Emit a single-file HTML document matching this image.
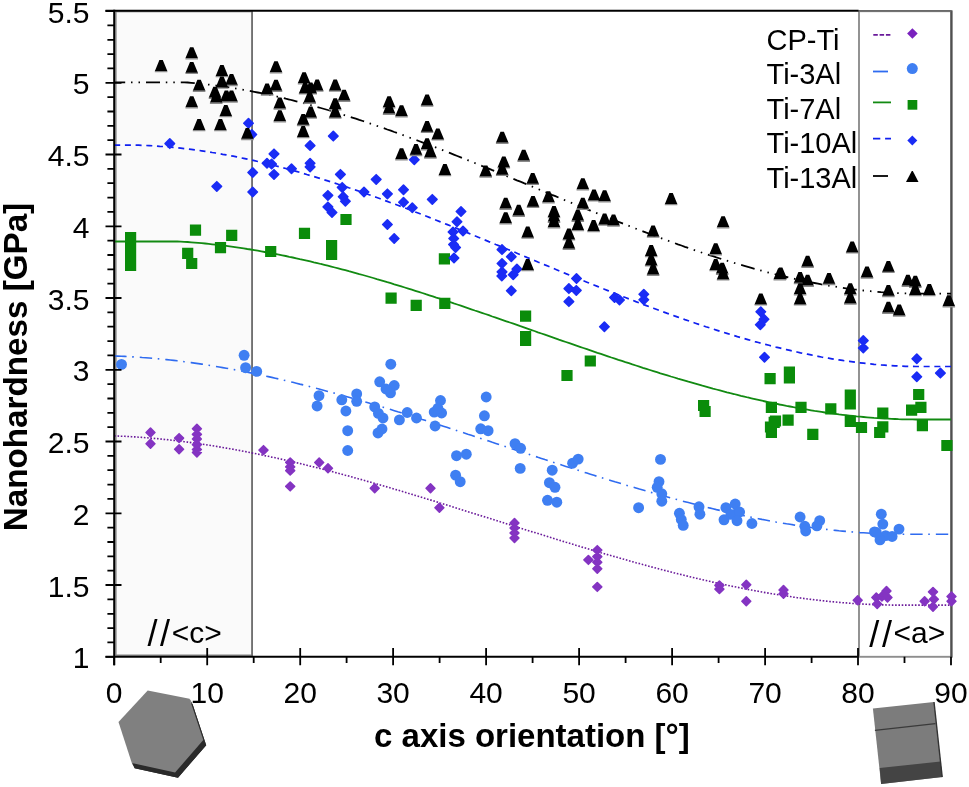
<!DOCTYPE html>
<html><head><meta charset="utf-8"><title>Nanohardness vs c axis orientation</title>
<style>
html,body{margin:0;padding:0;background:#fff;}
body{width:969px;height:787px;overflow:hidden;}
svg{display:block;}
text{font-family:"Liberation Sans",sans-serif;fill:#000;}
</style></head><body>
<svg width="969" height="787" viewBox="0 0 969 787">

<rect x="115.2" y="11.6" width="136.6" height="644.2" fill="#fafafa"/>
<rect x="115.9" y="11.6" width="136.2" height="643.6" fill="none" stroke="#8c8c8c" stroke-width="1.5"/>
<line x1="252.1" y1="11" x2="252.1" y2="656" stroke="#6f6f6f" stroke-width="1.7"/>
<rect x="859.0" y="11.2" width="92.4" height="645.6" fill="#fff" stroke="#8e8e8e" stroke-width="1.9"/>
<line x1="951.4" y1="10.5" x2="951.4" y2="657.4" stroke="#505050" stroke-width="2.2"/>
<line x1="858.6" y1="10.9" x2="951.4" y2="10.9" stroke="#6a6a6a" stroke-width="1.6"/>
<polyline points="114.2,435.9 117.7,436.0 121.2,436.2 124.7,436.3 128.2,436.5 131.7,436.7 135.2,436.9 138.7,437.2 142.2,437.4 145.7,437.7 149.2,438.0 152.7,438.3 156.2,438.6 159.7,438.9 163.2,439.3 166.7,439.6 170.2,440.0 173.7,440.4 177.2,440.8 180.7,441.2 184.2,441.7 187.7,442.1 191.2,442.6 194.7,443.1 198.2,443.6 201.7,444.1 205.2,444.6 208.7,445.2 212.2,445.7 215.7,446.3 219.2,446.9 222.7,447.5 226.2,448.1 229.7,448.7 233.2,449.3 236.7,450.0 240.2,450.6 243.7,451.3 247.3,452.0 250.8,452.7 254.3,453.4 257.8,454.1 261.3,454.8 264.8,455.6 268.3,456.3 271.8,457.1 275.3,457.8 278.8,458.6 282.3,459.4 285.8,460.2 289.3,461.0 292.8,461.8 296.3,462.7 299.8,463.5 303.3,464.3 306.8,465.2 310.3,466.1 313.8,466.9 317.3,467.8 320.8,468.7 324.3,469.6 327.8,470.5 331.3,471.4 334.8,472.4 338.3,473.3 341.8,474.2 345.3,475.2 348.8,476.1 352.3,477.1 355.8,478.1 359.3,479.0 362.8,480.0 366.3,481.0 369.8,482.0 373.3,483.0 376.8,484.0 380.3,485.0 383.8,486.0 387.3,487.0 390.8,488.1 394.3,489.1 397.8,490.1 401.3,491.2 404.8,492.2 408.3,493.3 411.8,494.3 415.3,495.4 418.8,496.4 422.3,497.5 425.8,498.6 429.3,499.6 432.8,500.7 436.3,501.8 439.8,502.9 443.3,503.9 446.8,505.0 450.3,506.1 453.8,507.2 457.3,508.3 460.8,509.4 464.3,510.5 467.8,511.6 471.3,512.7 474.8,513.8 478.3,514.9 481.8,516.0 485.3,517.1 488.8,518.2 492.3,519.3 495.8,520.4 499.3,521.5 502.8,522.6 506.3,523.7 509.9,524.8 513.4,525.9 516.9,527.0 520.4,528.1 523.9,529.2 527.4,530.3 530.9,531.4 534.4,532.4 537.9,533.5 541.4,534.6 544.9,535.7 548.4,536.8 551.9,537.9 555.4,539.0 558.9,540.0 562.4,541.1 565.9,542.2 569.4,543.2 572.9,544.3 576.4,545.4 579.9,546.4 583.4,547.5 586.9,548.5 590.4,549.6 593.9,550.6 597.4,551.6 600.9,552.7 604.4,553.7 607.9,554.7 611.4,555.7 614.9,556.7 618.4,557.7 621.9,558.7 625.4,559.7 628.9,560.7 632.4,561.7 635.9,562.7 639.4,563.6 642.9,564.6 646.4,565.5 649.9,566.5 653.4,567.4 656.9,568.3 660.4,569.3 663.9,570.2 667.4,571.1 670.9,572.0 674.4,572.9 677.9,573.8 681.4,574.6 684.9,575.5 688.4,576.4 691.9,577.2 695.4,578.0 698.9,578.9 702.4,579.7 705.9,580.5 709.4,581.3 712.9,582.1 716.4,582.9 719.9,583.6 723.4,584.4 726.9,585.1 730.4,585.9 733.9,586.6 737.4,587.3 740.9,588.0 744.4,588.7 747.9,589.4 751.4,590.0 754.9,590.7 758.4,591.3 761.9,592.0 765.4,592.6 769.0,593.2 772.5,593.8 776.0,594.4 779.5,594.9 783.0,595.5 786.5,596.0 790.0,596.5 793.5,597.1 797.0,597.6 800.5,598.0 804.0,598.5 807.5,599.0 811.0,599.4 814.5,599.8 818.0,600.2 821.5,600.6 825.0,601.0 828.5,601.4 832.0,601.7 835.5,602.0 839.0,602.4 842.5,602.7 846.0,602.9 849.5,603.2 853.0,603.5 856.5,603.7 860.0,603.9 863.5,604.1 867.0,604.3 870.5,604.4 874.0,604.6 877.5,604.7 881.0,604.8 884.5,604.9 888.0,605.0 891.5,605.1 895.0,605.1 898.5,605.1 902.0,605.1 905.5,605.1 909.0,605.1 912.5,605.1 916.0,605.1 919.5,605.1 923.0,605.1 926.5,605.1 930.0,605.1 933.5,605.1 937.0,605.1 940.5,605.1 944.0,605.1 947.5,605.1 951.0,605.1" fill="none" stroke="#6a1a9a" stroke-width="1.6" stroke-dasharray="1.6 1.7"/>
<polyline points="114.2,356.0 117.7,356.1 121.2,356.3 124.7,356.4 128.2,356.6 131.7,356.8 135.2,357.0 138.7,357.2 142.2,357.5 145.7,357.7 149.2,358.0 152.7,358.3 156.2,358.6 159.7,358.9 163.2,359.3 166.7,359.6 170.2,360.0 173.7,360.4 177.2,360.8 180.7,361.3 184.2,361.7 187.7,362.2 191.2,362.6 194.7,363.1 198.2,363.6 201.7,364.1 205.2,364.7 208.7,365.2 212.2,365.8 215.7,366.4 219.2,367.0 222.7,367.6 226.2,368.2 229.7,368.8 233.2,369.5 236.7,370.1 240.2,370.8 243.7,371.5 247.3,372.2 250.8,372.9 254.3,373.6 257.8,374.4 261.3,375.1 264.8,375.9 268.3,376.6 271.8,377.4 275.3,378.2 278.8,379.0 282.3,379.8 285.8,380.7 289.3,381.5 292.8,382.3 296.3,383.2 299.8,384.1 303.3,384.9 306.8,385.8 310.3,386.7 313.8,387.6 317.3,388.6 320.8,389.5 324.3,390.4 327.8,391.4 331.3,392.3 334.8,393.3 338.3,394.2 341.8,395.2 345.3,396.2 348.8,397.2 352.3,398.2 355.8,399.2 359.3,400.2 362.8,401.2 366.3,402.2 369.8,403.3 373.3,404.3 376.8,405.4 380.3,406.4 383.8,407.5 387.3,408.5 390.8,409.6 394.3,410.7 397.8,411.8 401.3,412.8 404.8,413.9 408.3,415.0 411.8,416.1 415.3,417.2 418.8,418.3 422.3,419.5 425.8,420.6 429.3,421.7 432.8,422.8 436.3,423.9 439.8,425.1 443.3,426.2 446.8,427.3 450.3,428.5 453.8,429.6 457.3,430.8 460.8,431.9 464.3,433.0 467.8,434.2 471.3,435.3 474.8,436.5 478.3,437.7 481.8,438.8 485.3,440.0 488.8,441.1 492.3,442.3 495.8,443.4 499.3,444.6 502.8,445.7 506.3,446.9 509.9,448.1 513.4,449.2 516.9,450.4 520.4,451.5 523.9,452.7 527.4,453.8 530.9,455.0 534.4,456.1 537.9,457.3 541.4,458.4 544.9,459.6 548.4,460.7 551.9,461.9 555.4,463.0 558.9,464.1 562.4,465.3 565.9,466.4 569.4,467.5 572.9,468.6 576.4,469.7 579.9,470.9 583.4,472.0 586.9,473.1 590.4,474.2 593.9,475.3 597.4,476.4 600.9,477.5 604.4,478.5 607.9,479.6 611.4,480.7 614.9,481.8 618.4,482.8 621.9,483.9 625.4,484.9 628.9,486.0 632.4,487.0 635.9,488.0 639.4,489.1 642.9,490.1 646.4,491.1 649.9,492.1 653.4,493.1 656.9,494.1 660.4,495.1 663.9,496.0 667.4,497.0 670.9,498.0 674.4,498.9 677.9,499.8 681.4,500.8 684.9,501.7 688.4,502.6 691.9,503.5 695.4,504.4 698.9,505.3 702.4,506.2 705.9,507.0 709.4,507.9 712.9,508.7 716.4,509.6 719.9,510.4 723.4,511.2 726.9,512.0 730.4,512.8 733.9,513.6 737.4,514.3 740.9,515.1 744.4,515.8 747.9,516.6 751.4,517.3 754.9,518.0 758.4,518.7 761.9,519.4 765.4,520.0 769.0,520.7 772.5,521.3 776.0,522.0 779.5,522.6 783.0,523.2 786.5,523.8 790.0,524.3 793.5,524.9 797.0,525.4 800.5,526.0 804.0,526.5 807.5,527.0 811.0,527.5 814.5,527.9 818.0,528.4 821.5,528.8 825.0,529.2 828.5,529.7 832.0,530.0 835.5,530.4 839.0,530.8 842.5,531.1 846.0,531.4 849.5,531.7 853.0,532.0 856.5,532.3 860.0,532.6 863.5,532.8 867.0,533.0 870.5,533.2 874.0,533.4 877.5,533.6 881.0,533.7 884.5,533.8 888.0,533.9 891.5,534.0 895.0,534.1 898.5,534.1 902.0,534.2 905.5,534.2 909.0,534.2 912.5,534.2 916.0,534.2 919.5,534.2 923.0,534.2 926.5,534.2 930.0,534.2 933.5,534.2 937.0,534.2 940.5,534.2 944.0,534.2 947.5,534.2 951.0,534.2" fill="none" stroke="#2f6bf0" stroke-width="1.6" stroke-dasharray="12.4 5.6 1.6 6"/>
<polyline points="114.2,241.5 117.7,241.5 121.2,241.5 124.7,241.5 128.2,241.5 131.7,241.5 135.2,241.5 138.7,241.5 142.2,241.5 145.7,241.5 149.2,241.5 152.7,241.5 156.2,241.5 159.7,241.5 163.2,241.5 166.7,241.5 170.2,241.5 173.7,241.5 177.2,241.5 180.7,241.6 184.2,241.8 187.7,242.0 191.2,242.3 194.7,242.6 198.2,242.9 201.7,243.2 205.2,243.5 208.7,243.9 212.2,244.3 215.7,244.7 219.2,245.1 222.7,245.5 226.2,245.9 229.7,246.4 233.2,246.9 236.7,247.4 240.2,247.9 243.7,248.4 247.3,249.0 250.8,249.5 254.3,250.1 257.8,250.7 261.3,251.3 264.8,252.0 268.3,252.6 271.8,253.3 275.3,253.9 278.8,254.6 282.3,255.3 285.8,256.0 289.3,256.8 292.8,257.5 296.3,258.3 299.8,259.1 303.3,259.8 306.8,260.6 310.3,261.4 313.8,262.3 317.3,263.1 320.8,264.0 324.3,264.8 327.8,265.7 331.3,266.6 334.8,267.5 338.3,268.4 341.8,269.3 345.3,270.2 348.8,271.2 352.3,272.1 355.8,273.1 359.3,274.1 362.8,275.0 366.3,276.0 369.8,277.0 373.3,278.0 376.8,279.1 380.3,280.1 383.8,281.1 387.3,282.2 390.8,283.2 394.3,284.3 397.8,285.3 401.3,286.4 404.8,287.5 408.3,288.6 411.8,289.7 415.3,290.8 418.8,291.9 422.3,293.0 425.8,294.2 429.3,295.3 432.8,296.4 436.3,297.6 439.8,298.7 443.3,299.9 446.8,301.0 450.3,302.2 453.8,303.4 457.3,304.5 460.8,305.7 464.3,306.9 467.8,308.1 471.3,309.3 474.8,310.5 478.3,311.6 481.8,312.8 485.3,314.0 488.8,315.2 492.3,316.5 495.8,317.7 499.3,318.9 502.8,320.1 506.3,321.3 509.9,322.5 513.4,323.7 516.9,324.9 520.4,326.2 523.9,327.4 527.4,328.6 530.9,329.8 534.4,331.0 537.9,332.3 541.4,333.5 544.9,334.7 548.4,335.9 551.9,337.1 555.4,338.3 558.9,339.6 562.4,340.8 565.9,342.0 569.4,343.2 572.9,344.4 576.4,345.6 579.9,346.8 583.4,348.0 586.9,349.2 590.4,350.4 593.9,351.6 597.4,352.8 600.9,353.9 604.4,355.1 607.9,356.3 611.4,357.5 614.9,358.6 618.4,359.8 621.9,360.9 625.4,362.1 628.9,363.2 632.4,364.4 635.9,365.5 639.4,366.6 642.9,367.8 646.4,368.9 649.9,370.0 653.4,371.1 656.9,372.2 660.4,373.3 663.9,374.3 667.4,375.4 670.9,376.5 674.4,377.5 677.9,378.6 681.4,379.6 684.9,380.6 688.4,381.7 691.9,382.7 695.4,383.7 698.9,384.7 702.4,385.7 705.9,386.6 709.4,387.6 712.9,388.6 716.4,389.5 719.9,390.4 723.4,391.3 726.9,392.3 730.4,393.2 733.9,394.0 737.4,394.9 740.9,395.8 744.4,396.6 747.9,397.5 751.4,398.3 754.9,399.1 758.4,399.9 761.9,400.7 765.4,401.5 769.0,402.3 772.5,403.0 776.0,403.7 779.5,404.5 783.0,405.2 786.5,405.9 790.0,406.5 793.5,407.2 797.0,407.8 800.5,408.5 804.0,409.1 807.5,409.7 811.0,410.3 814.5,410.9 818.0,411.4 821.5,411.9 825.0,412.5 828.5,413.0 832.0,413.4 835.5,413.9 839.0,414.4 842.5,414.8 846.0,415.2 849.5,415.6 853.0,416.0 856.5,416.4 860.0,416.7 863.5,417.0 867.0,417.3 870.5,417.6 874.0,417.9 877.5,418.1 881.0,418.3 884.5,418.5 888.0,418.7 891.5,418.9 895.0,419.0 898.5,419.2 902.0,419.3 905.5,419.3 909.0,419.4 912.5,419.4 916.0,419.5 919.5,419.5 923.0,419.5 926.5,419.5 930.0,419.5 933.5,419.5 937.0,419.5 940.5,419.5 944.0,419.5 947.5,419.5 951.0,419.5" fill="none" stroke="#128a12" stroke-width="1.8"/>
<polyline points="114.2,145.1 117.7,145.1 121.2,145.1 124.7,145.1 128.2,145.1 131.7,145.1 135.2,145.1 138.7,145.2 142.2,145.3 145.7,145.5 149.2,145.6 152.7,145.8 156.2,146.0 159.7,146.3 163.2,146.5 166.7,146.8 170.2,147.1 173.7,147.4 177.2,147.8 180.7,148.2 184.2,148.6 187.7,149.0 191.2,149.4 194.7,149.9 198.2,150.3 201.7,150.8 205.2,151.4 208.7,151.9 212.2,152.5 215.7,153.0 219.2,153.6 222.7,154.3 226.2,154.9 229.7,155.6 233.2,156.2 236.7,156.9 240.2,157.7 243.7,158.4 247.3,159.1 250.8,159.9 254.3,160.7 257.8,161.5 261.3,162.3 264.8,163.2 268.3,164.0 271.8,164.9 275.3,165.8 278.8,166.7 282.3,167.6 285.8,168.5 289.3,169.5 292.8,170.4 296.3,171.4 299.8,172.4 303.3,173.4 306.8,174.5 310.3,175.5 313.8,176.5 317.3,177.6 320.8,178.7 324.3,179.8 327.8,180.9 331.3,182.0 334.8,183.1 338.3,184.3 341.8,185.4 345.3,186.6 348.8,187.8 352.3,188.9 355.8,190.1 359.3,191.3 362.8,192.6 366.3,193.8 369.8,195.0 373.3,196.3 376.8,197.5 380.3,198.8 383.8,200.1 387.3,201.4 390.8,202.7 394.3,204.0 397.8,205.3 401.3,206.6 404.8,207.9 408.3,209.3 411.8,210.6 415.3,212.0 418.8,213.3 422.3,214.7 425.8,216.0 429.3,217.4 432.8,218.8 436.3,220.2 439.8,221.6 443.3,223.0 446.8,224.4 450.3,225.8 453.8,227.2 457.3,228.6 460.8,230.1 464.3,231.5 467.8,232.9 471.3,234.3 474.8,235.8 478.3,237.2 481.8,238.7 485.3,240.1 488.8,241.6 492.3,243.0 495.8,244.5 499.3,245.9 502.8,247.4 506.3,248.8 509.9,250.3 513.4,251.7 516.9,253.2 520.4,254.7 523.9,256.1 527.4,257.6 530.9,259.0 534.4,260.5 537.9,262.0 541.4,263.4 544.9,264.9 548.4,266.3 551.9,267.8 555.4,269.2 558.9,270.7 562.4,272.1 565.9,273.6 569.4,275.0 572.9,276.5 576.4,277.9 579.9,279.3 583.4,280.8 586.9,282.2 590.4,283.6 593.9,285.0 597.4,286.4 600.9,287.8 604.4,289.2 607.9,290.6 611.4,292.0 614.9,293.4 618.4,294.8 621.9,296.2 625.4,297.5 628.9,298.9 632.4,300.2 635.9,301.6 639.4,302.9 642.9,304.3 646.4,305.6 649.9,306.9 653.4,308.2 656.9,309.5 660.4,310.8 663.9,312.1 667.4,313.4 670.9,314.6 674.4,315.9 677.9,317.1 681.4,318.3 684.9,319.6 688.4,320.8 691.9,322.0 695.4,323.2 698.9,324.4 702.4,325.5 705.9,326.7 709.4,327.8 712.9,329.0 716.4,330.1 719.9,331.2 723.4,332.3 726.9,333.4 730.4,334.5 733.9,335.5 737.4,336.6 740.9,337.6 744.4,338.6 747.9,339.6 751.4,340.6 754.9,341.6 758.4,342.5 761.9,343.5 765.4,344.4 769.0,345.3 772.5,346.2 776.0,347.1 779.5,347.9 783.0,348.8 786.5,349.6 790.0,350.4 793.5,351.2 797.0,352.0 800.5,352.8 804.0,353.5 807.5,354.2 811.0,354.9 814.5,355.6 818.0,356.3 821.5,357.0 825.0,357.6 828.5,358.2 832.0,358.8 835.5,359.4 839.0,359.9 842.5,360.4 846.0,361.0 849.5,361.4 853.0,361.9 856.5,362.4 860.0,362.8 863.5,363.2 867.0,363.6 870.5,363.9 874.0,364.3 877.5,364.6 881.0,364.9 884.5,365.1 888.0,365.4 891.5,365.6 895.0,365.8 898.5,366.0 902.0,366.1 905.5,366.3 909.0,366.4 912.5,366.4 916.0,366.5 919.5,366.5 923.0,366.5 926.5,366.5 930.0,366.5 933.5,366.5 937.0,366.5 940.5,366.5 944.0,366.5 947.5,366.5 951.0,366.5" fill="none" stroke="#1020f0" stroke-width="1.7" stroke-dasharray="6 4.7"/>
<polyline points="114.2,82.4 117.7,82.4 121.2,82.4 124.7,82.4 128.2,82.4 131.7,82.4 135.2,82.4 138.7,82.4 142.2,82.4 145.7,82.4 149.2,82.4 152.7,82.4 156.2,82.4 159.7,82.4 163.2,82.4 166.7,82.4 170.2,82.4 173.7,82.4 177.2,82.4 180.7,82.4 184.2,82.4 187.7,82.5 191.2,82.8 194.7,83.1 198.2,83.5 201.7,83.8 205.2,84.2 208.7,84.6 212.2,85.0 215.7,85.5 219.2,85.9 222.7,86.4 226.2,86.9 229.7,87.5 233.2,88.0 236.7,88.6 240.2,89.2 243.7,89.8 247.3,90.4 250.8,91.1 254.3,91.8 257.8,92.5 261.3,93.2 264.8,93.9 268.3,94.7 271.8,95.4 275.3,96.2 278.8,97.0 282.3,97.8 285.8,98.7 289.3,99.5 292.8,100.4 296.3,101.3 299.8,102.2 303.3,103.1 306.8,104.1 310.3,105.0 313.8,106.0 317.3,107.0 320.8,108.0 324.3,109.0 327.8,110.0 331.3,111.0 334.8,112.1 338.3,113.2 341.8,114.3 345.3,115.4 348.8,116.5 352.3,117.6 355.8,118.7 359.3,119.9 362.8,121.0 366.3,122.2 369.8,123.4 373.3,124.6 376.8,125.8 380.3,127.0 383.8,128.2 387.3,129.5 390.8,130.7 394.3,132.0 397.8,133.2 401.3,134.5 404.8,135.8 408.3,137.1 411.8,138.4 415.3,139.7 418.8,141.0 422.3,142.3 425.8,143.7 429.3,145.0 432.8,146.4 436.3,147.7 439.8,149.1 443.3,150.4 446.8,151.8 450.3,153.2 453.8,154.6 457.3,156.0 460.8,157.4 464.3,158.8 467.8,160.2 471.3,161.6 474.8,163.0 478.3,164.4 481.8,165.9 485.3,167.3 488.8,168.7 492.3,170.2 495.8,171.6 499.3,173.0 502.8,174.5 506.3,175.9 509.9,177.4 513.4,178.8 516.9,180.3 520.4,181.7 523.9,183.2 527.4,184.6 530.9,186.1 534.4,187.5 537.9,189.0 541.4,190.4 544.9,191.9 548.4,193.3 551.9,194.8 555.4,196.2 558.9,197.7 562.4,199.1 565.9,200.6 569.4,202.0 572.9,203.4 576.4,204.9 579.9,206.3 583.4,207.7 586.9,209.2 590.4,210.6 593.9,212.0 597.4,213.4 600.9,214.8 604.4,216.2 607.9,217.6 611.4,219.0 614.9,220.4 618.4,221.8 621.9,223.2 625.4,224.6 628.9,225.9 632.4,227.3 635.9,228.7 639.4,230.0 642.9,231.3 646.4,232.7 649.9,234.0 653.4,235.3 656.9,236.6 660.4,237.9 663.9,239.2 667.4,240.5 670.9,241.8 674.4,243.0 677.9,244.3 681.4,245.5 684.9,246.8 688.4,248.0 691.9,249.2 695.4,250.4 698.9,251.6 702.4,252.8 705.9,253.9 709.4,255.1 712.9,256.2 716.4,257.4 719.9,258.5 723.4,259.6 726.9,260.7 730.4,261.8 733.9,262.8 737.4,263.9 740.9,264.9 744.4,265.9 747.9,266.9 751.4,267.9 754.9,268.9 758.4,269.9 761.9,270.8 765.4,271.8 769.0,272.7 772.5,273.6 776.0,274.5 779.5,275.3 783.0,276.2 786.5,277.0 790.0,277.8 793.5,278.6 797.0,279.4 800.5,280.2 804.0,280.9 807.5,281.6 811.0,282.3 814.5,283.0 818.0,283.7 821.5,284.4 825.0,285.0 828.5,285.6 832.0,286.2 835.5,286.7 839.0,287.3 842.5,287.8 846.0,288.3 849.5,288.8 853.0,289.3 856.5,289.7 860.0,290.1 863.5,290.5 867.0,290.9 870.5,291.2 874.0,291.6 877.5,291.9 881.0,292.2 884.5,292.4 888.0,292.6 891.5,292.8 895.0,293.0 898.5,293.2 902.0,293.3 905.5,293.4 909.0,293.5 912.5,293.6 916.0,293.6 919.5,293.6 923.0,293.6 926.5,293.6 930.0,293.6 933.5,293.6 937.0,293.6 940.5,293.6 944.0,293.6 947.5,293.6 951.0,293.6" fill="none" stroke="#000000" stroke-width="1.8" stroke-dasharray="14 5.8 1.5 6 1.5 6" stroke-dashoffset="3"/>
<path fill="#8434c2" stroke="#8434c2" stroke-width="1.6" stroke-linejoin="round" d="M150.5,428.1L154.9,432.5L150.5,436.9L146.1,432.5ZM150.5,439.3L154.9,443.7L150.5,448.1L146.1,443.7ZM179.1,433.7L183.5,438.1L179.1,442.5L174.7,438.1ZM179.1,444.8L183.5,449.2L179.1,453.6L174.7,449.2ZM196.9,424.4L201.3,428.8L196.9,433.2L192.5,428.8ZM196.9,430.0L201.3,434.4L196.9,438.8L192.5,434.4ZM196.9,434.6L201.3,439.0L196.9,443.4L192.5,439.0ZM196.9,440.2L201.3,444.6L196.9,449.0L192.5,444.6ZM196.9,445.1L201.3,449.5L196.9,453.9L192.5,449.5ZM196.9,448.1L201.3,452.5L196.9,456.9L192.5,452.5ZM263.5,445.7L267.9,450.1L263.5,454.5L259.1,450.1ZM290.2,458.0L294.6,462.4L290.2,466.8L285.8,462.4ZM290.2,462.5L294.6,466.9L290.2,471.3L285.8,466.9ZM290.2,466.2L294.6,470.6L290.2,475.0L285.8,470.6ZM290.2,482.0L294.6,486.4L290.2,490.8L285.8,486.4ZM319.2,458.1L323.6,462.5L319.2,466.9L314.8,462.5ZM328.0,463.9L332.4,468.3L328.0,472.7L323.6,468.3ZM374.7,483.8L379.1,488.2L374.7,492.6L370.3,488.2ZM430.5,483.8L434.9,488.2L430.5,492.6L426.1,488.2ZM439.4,503.3L443.8,507.7L439.4,512.1L435.0,507.7ZM514.5,518.6L518.9,523.0L514.5,527.4L510.1,523.0ZM514.5,523.6L518.9,528.0L514.5,532.4L510.1,528.0ZM514.5,528.6L518.9,533.0L514.5,537.4L510.1,533.0ZM514.5,533.6L518.9,538.0L514.5,542.4L510.1,538.0ZM588.4,555.5L592.8,559.9L588.4,564.3L584.0,559.9ZM597.3,545.7L601.7,550.1L597.3,554.5L592.9,550.1ZM597.3,552.2L601.7,556.6L597.3,561.0L592.9,556.6ZM597.3,557.8L601.7,562.2L597.3,566.6L592.9,562.2ZM597.3,564.3L601.7,568.7L597.3,573.1L592.9,568.7ZM597.3,582.5L601.7,586.9L597.3,591.3L592.9,586.9ZM719.4,581.0L723.8,585.4L719.4,589.8L715.0,585.4ZM719.4,584.7L723.8,589.1L719.4,593.5L715.0,589.1ZM746.3,580.4L750.7,584.8L746.3,589.2L741.9,584.8ZM746.3,596.8L750.7,601.2L746.3,605.6L741.9,601.2ZM783.5,585.6L787.9,590.0L783.5,594.4L779.1,590.0ZM783.5,589.3L787.9,593.7L783.5,598.1L779.1,593.7ZM857.7,595.8L862.1,600.2L857.7,604.6L853.3,600.2ZM876.3,593.1L880.7,597.5L876.3,601.9L871.9,597.5ZM877.2,599.6L881.6,604.0L877.2,608.4L872.8,604.0ZM881.9,592.1L886.3,596.5L881.9,600.9L877.5,596.5ZM886.5,586.6L890.9,591.0L886.5,595.4L882.1,591.0ZM887.5,593.1L891.9,597.5L887.5,601.9L883.1,597.5ZM924.6,596.8L929.0,601.2L924.6,605.6L920.2,601.2ZM933.0,587.5L937.4,591.9L933.0,596.3L928.6,591.9ZM933.9,594.9L938.3,599.3L933.9,603.7L929.5,599.3ZM933.0,602.3L937.4,606.7L933.0,611.1L928.6,606.7ZM951.5,592.1L955.9,596.5L951.5,600.9L947.1,596.5ZM951.5,596.8L955.9,601.2L951.5,605.6L947.1,601.2Z"/>
<g fill="#3f7ff2"><circle cx="121.5" cy="364.4" r="5.45"/><circle cx="244.1" cy="355.3" r="5.45"/><circle cx="245.6" cy="367.7" r="5.45"/><circle cx="256.7" cy="371.4" r="5.45"/><circle cx="319" cy="395.7" r="5.45"/><circle cx="317.1" cy="406" r="5.45"/><circle cx="341.8" cy="399.8" r="5.45"/><circle cx="345.9" cy="411" r="5.45"/><circle cx="356.7" cy="393.9" r="5.45"/><circle cx="356.7" cy="401.3" r="5.45"/><circle cx="347.7" cy="430.7" r="5.45"/><circle cx="347.7" cy="450.5" r="5.45"/><circle cx="390.8" cy="364.2" r="5.45"/><circle cx="379.7" cy="381.8" r="5.45"/><circle cx="394.2" cy="385.5" r="5.45"/><circle cx="390.5" cy="392.9" r="5.45"/><circle cx="374.7" cy="406.9" r="5.45"/><circle cx="378.4" cy="413.4" r="5.45"/><circle cx="383" cy="418" r="5.45"/><circle cx="378" cy="433" r="5.45"/><circle cx="382" cy="429" r="5.45"/><circle cx="399.4" cy="419.9" r="5.45"/><circle cx="407.2" cy="412.5" r="5.45"/><circle cx="416.5" cy="418" r="5.45"/><circle cx="434.2" cy="412.1" r="5.45"/><circle cx="441.6" cy="413" r="5.45"/><circle cx="440.5" cy="400.5" r="5.45"/><circle cx="437.9" cy="408.3" r="5.45"/><circle cx="386" cy="389" r="5.45"/><circle cx="435.1" cy="426" r="5.45"/><circle cx="486.2" cy="397" r="5.45"/><circle cx="484.4" cy="415.8" r="5.45"/><circle cx="480.7" cy="428.8" r="5.45"/><circle cx="488.1" cy="430.7" r="5.45"/><circle cx="456.5" cy="455.7" r="5.45"/><circle cx="466.3" cy="454.2" r="5.45"/><circle cx="455.6" cy="475.2" r="5.45"/><circle cx="460.2" cy="481.7" r="5.45"/><circle cx="515" cy="443.7" r="5.45"/><circle cx="520.6" cy="448.3" r="5.45"/><circle cx="520.2" cy="468.4" r="5.45"/><circle cx="552.2" cy="470.2" r="5.45"/><circle cx="549.4" cy="482.7" r="5.45"/><circle cx="555" cy="487.3" r="5.45"/><circle cx="547.5" cy="500.3" r="5.45"/><circle cx="556.8" cy="502.2" r="5.45"/><circle cx="572.6" cy="463.2" r="5.45"/><circle cx="578.2" cy="459.1" r="5.45"/><circle cx="660.5" cy="459.4" r="5.45"/><circle cx="659" cy="481.7" r="5.45"/><circle cx="657.2" cy="487.3" r="5.45"/><circle cx="661.8" cy="493.8" r="5.45"/><circle cx="661.8" cy="501.2" r="5.45"/><circle cx="638.6" cy="507.7" r="5.45"/><circle cx="679.4" cy="513.3" r="5.45"/><circle cx="681.3" cy="519.5" r="5.45"/><circle cx="683.2" cy="525.4" r="5.45"/><circle cx="699" cy="506.8" r="5.45"/><circle cx="699.9" cy="514.2" r="5.45"/><circle cx="725.9" cy="507.7" r="5.45"/><circle cx="735.2" cy="504" r="5.45"/><circle cx="737" cy="513.3" r="5.45"/><circle cx="730.9" cy="514.4" r="5.45"/><circle cx="739.6" cy="512" r="5.45"/><circle cx="724" cy="519.8" r="5.45"/><circle cx="737" cy="520.7" r="5.45"/><circle cx="751.9" cy="523.5" r="5.45"/><circle cx="800.1" cy="517" r="5.45"/><circle cx="804.8" cy="526.3" r="5.45"/><circle cx="805.7" cy="531" r="5.45"/><circle cx="819.7" cy="520.7" r="5.45"/><circle cx="816.9" cy="525.9" r="5.45"/><circle cx="881.3" cy="514.2" r="5.45"/><circle cx="882.8" cy="524.1" r="5.45"/><circle cx="874.5" cy="531.9" r="5.45"/><circle cx="885.6" cy="535.6" r="5.45"/><circle cx="892.1" cy="536.5" r="5.45"/><circle cx="899" cy="529.1" r="5.45"/><circle cx="880" cy="539.9" r="5.45"/><circle cx="876.3" cy="532.4" r="5.45"/></g>
<path fill="#0a8c0a" d="M125.0,231.9h11.2v11.2h-11.2ZM125.0,238.4h11.2v11.2h-11.2ZM125.0,245.4h11.2v11.2h-11.2ZM125.0,252.4h11.2v11.2h-11.2ZM125.0,259.9h11.2v11.2h-11.2ZM189.9,224.5h11.2v11.2h-11.2ZM182.1,247.7h11.2v11.2h-11.2ZM186.1,257.9h11.2v11.2h-11.2ZM214.9,242.1h11.2v11.2h-11.2ZM226.1,229.7h11.2v11.2h-11.2ZM265.1,245.9h11.2v11.2h-11.2ZM340.4,213.9h11.2v11.2h-11.2ZM298.9,227.8h11.2v11.2h-11.2ZM326.0,239.9h11.2v11.2h-11.2ZM326.0,248.9h11.2v11.2h-11.2ZM438.8,253.3h11.2v11.2h-11.2ZM385.5,292.6h11.2v11.2h-11.2ZM410.6,299.7h11.2v11.2h-11.2ZM439.2,297.8h11.2v11.2h-11.2ZM520.0,310.5h11.2v11.2h-11.2ZM520.0,330.9h11.2v11.2h-11.2ZM520.0,334.9h11.2v11.2h-11.2ZM584.7,355.4h11.2v11.2h-11.2ZM561.4,369.9h11.2v11.2h-11.2ZM698.0,399.9h11.2v11.2h-11.2ZM699.5,405.9h11.2v11.2h-11.2ZM764.5,373.1h11.2v11.2h-11.2ZM783.8,366.4h11.2v11.2h-11.2ZM783.8,372.4h11.2v11.2h-11.2ZM765.8,401.8h11.2v11.2h-11.2ZM768.6,416.7h11.2v11.2h-11.2ZM765.8,426.9h11.2v11.2h-11.2ZM764.9,421.4h11.2v11.2h-11.2ZM769.9,415.4h11.2v11.2h-11.2ZM782.5,414.5h11.2v11.2h-11.2ZM795.4,401.8h11.2v11.2h-11.2ZM825.2,403.3h11.2v11.2h-11.2ZM844.7,389.4h11.2v11.2h-11.2ZM844.7,398.4h11.2v11.2h-11.2ZM844.7,415.8h11.2v11.2h-11.2ZM855.9,421.9h11.2v11.2h-11.2ZM807.2,428.8h11.2v11.2h-11.2ZM877.2,407.4h11.2v11.2h-11.2ZM877.2,421.3h11.2v11.2h-11.2ZM874.1,426.9h11.2v11.2h-11.2ZM906.0,404.6h11.2v11.2h-11.2ZM915.3,401.8h11.2v11.2h-11.2ZM913.1,388.9h11.2v11.2h-11.2ZM916.8,420.0h11.2v11.2h-11.2ZM941.3,439.9h11.2v11.2h-11.2Z"/>
<path fill="#1a2cf5" stroke="#1a2cf5" stroke-width="1.6" stroke-linejoin="round" d="M169.8,138.9L174.5,143.6L169.8,148.3L165.1,143.6ZM248.5,118.5L253.2,123.2L248.5,127.9L243.8,123.2ZM251.8,129.8L256.5,134.5L251.8,139.2L247.1,134.5ZM274.0,149.2L278.7,153.9L274.0,158.6L269.3,153.9ZM267.0,158.5L271.7,163.2L267.0,167.9L262.3,163.2ZM271.6,159.4L276.3,164.1L271.6,168.8L266.9,164.1ZM274.0,169.7L278.7,174.4L274.0,179.1L269.3,174.4ZM252.7,167.8L257.4,172.5L252.7,177.2L248.0,172.5ZM252.7,187.3L257.4,192.0L252.7,196.7L248.0,192.0ZM216.8,181.7L221.5,186.4L216.8,191.1L212.1,186.4ZM291.5,164.1L296.2,168.8L291.5,173.5L286.8,168.8ZM310.1,140.9L314.8,145.6L310.1,150.3L305.4,145.6ZM333.3,131.4L338.0,136.1L333.3,140.8L328.6,136.1ZM310.1,158.5L314.8,163.2L310.1,167.9L305.4,163.2ZM310.1,162.2L314.8,166.9L310.1,171.6L305.4,166.9ZM340.4,169.7L345.1,174.4L340.4,179.1L335.7,174.4ZM342.2,182.7L346.9,187.4L342.2,192.1L337.5,187.4ZM327.9,190.7L332.6,195.4L327.9,200.1L323.2,195.4ZM343.2,192.0L347.9,196.7L343.2,201.4L338.5,196.7ZM345.4,196.6L350.1,201.3L345.4,206.0L340.7,201.3ZM327.9,202.2L332.6,206.9L327.9,211.6L323.2,206.9ZM332.0,207.8L336.7,212.5L332.0,217.2L327.3,212.5ZM364.0,187.3L368.7,192.0L364.0,196.7L359.3,192.0ZM376.2,174.7L380.9,179.4L376.2,184.1L371.5,179.4ZM387.4,189.2L392.1,193.9L387.4,198.6L382.7,193.9ZM403.5,185.1L408.2,189.8L403.5,194.5L398.8,189.8ZM403.5,197.5L408.2,202.2L403.5,206.9L398.8,202.2ZM412.3,203.1L417.0,207.8L412.3,212.5L407.6,207.8ZM432.3,194.7L437.0,199.4L432.3,204.1L427.6,199.4ZM387.4,219.8L392.1,224.5L387.4,229.2L382.7,224.5ZM394.2,233.8L398.9,238.5L394.2,243.2L389.5,238.5ZM414.3,155.1L419.0,159.8L414.3,164.5L409.6,159.8ZM461.0,206.8L465.7,211.5L461.0,216.2L456.3,211.5ZM457.0,217.0L461.7,221.7L457.0,226.4L452.3,221.7ZM463.0,226.3L467.7,231.0L463.0,235.7L458.3,231.0ZM453.0,227.3L457.7,232.0L453.0,236.7L448.3,232.0ZM453.7,233.8L458.4,238.5L453.7,243.2L449.0,238.5ZM453.5,239.8L458.2,244.5L453.5,249.2L448.8,244.5ZM455.6,242.8L460.3,247.5L455.6,252.2L450.9,247.5ZM454.0,253.3L458.7,258.0L454.0,262.7L449.3,258.0ZM502.0,244.9L506.7,249.6L502.0,254.3L497.3,249.6ZM511.3,252.0L516.0,256.7L511.3,261.4L506.6,256.7ZM502.0,258.8L506.7,263.5L502.0,268.2L497.3,263.5ZM502.0,267.2L506.7,271.9L502.0,276.6L497.3,271.9ZM516.9,264.4L521.6,269.1L516.9,273.8L512.2,269.1ZM513.2,270.0L517.9,274.7L513.2,279.4L508.5,274.7ZM576.5,273.8L581.2,278.5L576.5,283.2L571.8,278.5ZM576.3,285.7L581.0,290.4L576.3,295.1L571.6,290.4ZM568.9,283.9L573.6,288.6L568.9,293.3L564.2,288.6ZM511.3,286.1L516.0,290.8L511.3,295.5L506.6,290.8ZM568.9,296.9L573.6,301.6L568.9,306.3L564.2,301.6ZM614.5,292.8L619.2,297.5L614.5,302.2L609.8,297.5ZM619.5,295.3L624.2,300.0L619.5,304.7L614.8,300.0ZM501.8,271.3L506.5,276.0L501.8,280.7L497.1,276.0ZM604.4,322.1L609.1,326.8L604.4,331.5L599.7,326.8ZM643.8,289.5L648.5,294.2L643.8,298.9L639.1,294.2ZM643.8,295.0L648.5,299.7L643.8,304.4L639.1,299.7ZM760.8,307.1L765.5,311.8L760.8,316.5L756.1,311.8ZM764.0,314.5L768.7,319.2L764.0,323.9L759.3,319.2ZM760.3,320.1L765.0,324.8L760.3,329.5L755.6,324.8ZM764.5,352.6L769.2,357.3L764.5,362.0L759.8,357.3ZM863.3,335.9L868.0,340.6L863.3,345.3L858.6,340.6ZM863.3,343.3L868.0,348.0L863.3,352.7L858.6,348.0ZM916.8,354.1L921.5,358.8L916.8,363.5L912.1,358.8ZM916.8,372.1L921.5,376.8L916.8,381.5L912.1,376.8ZM940.4,368.4L945.1,373.1L940.4,377.8L935.7,373.1Z"/>
<path fill="#8a8a8a" d="M154.8,70.7h12.6v1.6h-12.6ZM185.4,57.9h12.6v1.6h-12.6ZM185.4,72.5h12.6v1.6h-12.6ZM192.8,90.3h12.6v1.6h-12.6ZM185.4,106.9h12.6v1.6h-12.6ZM192.8,129.7h12.6v1.6h-12.6ZM215.6,75.7h12.6v1.6h-12.6ZM215.6,87.2h12.6v1.6h-12.6ZM225.2,84.6h12.6v1.6h-12.6ZM208.7,97.3h12.6v1.6h-12.6ZM209.9,102.4h12.6v1.6h-12.6ZM220.1,101.1h12.6v1.6h-12.6ZM225.2,101.1h12.6v1.6h-12.6ZM219.5,115.7h12.6v1.6h-12.6ZM214.1,129.7h12.6v1.6h-12.6ZM241.1,138.6h12.6v1.6h-12.6ZM269.7,71.9h12.6v1.6h-12.6ZM269.7,90.3h12.6v1.6h-12.6ZM260.8,94.1h12.6v1.6h-12.6ZM273.5,108.1h12.6v1.6h-12.6ZM273.5,120.8h12.6v1.6h-12.6ZM297.8,82.8h12.6v1.6h-12.6ZM298.8,93.0h12.6v1.6h-12.6ZM304.4,93.0h12.6v1.6h-12.6ZM310.9,90.2h12.6v1.6h-12.6ZM303.4,102.3h12.6v1.6h-12.6ZM304.4,117.2h12.6v1.6h-12.6ZM296.9,124.6h12.6v1.6h-12.6ZM296.9,136.7h12.6v1.6h-12.6ZM328.9,90.2h12.6v1.6h-12.6ZM337.8,100.4h12.6v1.6h-12.6ZM328.9,108.8h12.6v1.6h-12.6ZM328.9,117.2h12.6v1.6h-12.6ZM382.8,106.8h12.6v1.6h-12.6ZM382.8,113.4h12.6v1.6h-12.6ZM395.2,115.8h12.6v1.6h-12.6ZM420.8,105.1h12.6v1.6h-12.6ZM420.8,131.5h12.6v1.6h-12.6ZM431.5,139.0h12.6v1.6h-12.6ZM420.8,148.9h12.6v1.6h-12.6ZM424.1,157.1h12.6v1.6h-12.6ZM409.7,154.6h12.6v1.6h-12.6ZM395.2,158.8h12.6v1.6h-12.6ZM438.6,174.7h12.6v1.6h-12.6ZM495.9,142.3h12.6v1.6h-12.6ZM517.4,160.4h12.6v1.6h-12.6ZM497.5,167.0h12.6v1.6h-12.6ZM495.9,174.5h12.6v1.6h-12.6ZM479.4,176.1h12.6v1.6h-12.6ZM526.4,183.5h12.6v1.6h-12.6ZM576.5,188.9h12.6v1.6h-12.6ZM587.7,200.0h12.6v1.6h-12.6ZM598.3,200.9h12.6v1.6h-12.6ZM542.2,201.9h12.6v1.6h-12.6ZM499.4,208.4h12.6v1.6h-12.6ZM526.7,206.5h12.6v1.6h-12.6ZM512.4,215.4h12.6v1.6h-12.6ZM499.4,222.9h12.6v1.6h-12.6ZM521.4,237.2h12.6v1.6h-12.6ZM576.5,208.4h12.6v1.6h-12.6ZM547.7,216.7h12.6v1.6h-12.6ZM547.7,221.4h12.6v1.6h-12.6ZM547.7,226.9h12.6v1.6h-12.6ZM571.5,220.4h12.6v1.6h-12.6ZM571.5,229.7h12.6v1.6h-12.6ZM587.3,230.7h12.6v1.6h-12.6ZM598.3,224.2h12.6v1.6h-12.6ZM607.2,225.1h12.6v1.6h-12.6ZM562.6,239.0h12.6v1.6h-12.6ZM562.6,248.3h12.6v1.6h-12.6ZM521.4,269.7h12.6v1.6h-12.6ZM664.8,203.7h12.6v1.6h-12.6ZM716.8,226.9h12.6v1.6h-12.6ZM646.8,236.2h12.6v1.6h-12.6ZM644.9,255.7h12.6v1.6h-12.6ZM644.9,265.0h12.6v1.6h-12.6ZM646.8,274.3h12.6v1.6h-12.6ZM709.4,253.9h12.6v1.6h-12.6ZM709.4,269.7h12.6v1.6h-12.6ZM715.9,273.4h12.6v1.6h-12.6ZM716.8,279.0h12.6v1.6h-12.6ZM774.4,278.0h12.6v1.6h-12.6ZM845.9,252.0h12.6v1.6h-12.6ZM801.3,266.3h12.6v1.6h-12.6ZM860.7,277.1h12.6v1.6h-12.6ZM882.1,271.5h12.6v1.6h-12.6ZM793.8,282.6h12.6v1.6h-12.6ZM801.3,285.4h12.6v1.6h-12.6ZM793.8,293.8h12.6v1.6h-12.6ZM793.8,304.0h12.6v1.6h-12.6ZM822.7,283.6h12.6v1.6h-12.6ZM844.0,293.8h12.6v1.6h-12.6ZM844.0,303.1h12.6v1.6h-12.6ZM882.1,295.6h12.6v1.6h-12.6ZM901.6,285.4h12.6v1.6h-12.6ZM909.0,286.3h12.6v1.6h-12.6ZM909.0,294.7h12.6v1.6h-12.6ZM923.0,294.7h12.6v1.6h-12.6ZM882.1,312.4h12.6v1.6h-12.6ZM892.9,315.1h12.6v1.6h-12.6ZM942.5,305.9h12.6v1.6h-12.6ZM754.5,304.0h12.6v1.6h-12.6ZM773.5,278.9h12.6v1.6h-12.6Z"/>
<path fill="#000000" d="M154.9,70.9L159.4,60.1H162.8L167.3,70.9ZM185.5,58.1L190.0,47.3H193.4L197.9,58.1ZM185.5,72.7L190.0,61.9H193.4L197.9,72.7ZM192.9,90.5L197.4,79.7H200.8L205.3,90.5ZM185.5,107.1L190.0,96.3H193.4L197.9,107.1ZM192.9,129.9L197.4,119.1H200.8L205.3,129.9ZM215.7,75.9L220.2,65.1H223.6L228.1,75.9ZM215.7,87.4L220.2,76.6H223.6L228.1,87.4ZM225.3,84.8L229.8,74.0H233.2L237.7,84.8ZM208.8,97.5L213.3,86.7H216.7L221.2,97.5ZM210.0,102.6L214.5,91.8H217.9L222.4,102.6ZM220.2,101.3L224.7,90.5H228.1L232.6,101.3ZM225.3,101.3L229.8,90.5H233.2L237.7,101.3ZM219.6,115.9L224.1,105.1H227.5L232.0,115.9ZM214.2,129.9L218.7,119.1H222.1L226.6,129.9ZM241.2,138.8L245.7,128.0H249.1L253.6,138.8ZM269.8,72.1L274.3,61.3H277.7L282.2,72.1ZM269.8,90.5L274.3,79.7H277.7L282.2,90.5ZM260.9,94.3L265.4,83.5H268.8L273.3,94.3ZM273.6,108.3L278.1,97.5H281.5L286.0,108.3ZM273.6,121.0L278.1,110.2H281.5L286.0,121.0ZM297.9,83.0L302.4,72.2H305.8L310.3,83.0ZM298.9,93.2L303.4,82.4H306.8L311.3,93.2ZM304.5,93.2L309.0,82.4H312.4L316.9,93.2ZM311.0,90.4L315.5,79.6H318.9L323.4,90.4ZM303.5,102.5L308.0,91.7H311.4L315.9,102.5ZM304.5,117.4L309.0,106.6H312.4L316.9,117.4ZM297.0,124.8L301.5,114.0H304.9L309.4,124.8ZM297.0,136.9L301.5,126.1H304.9L309.4,136.9ZM329.0,90.4L333.5,79.6H336.9L341.4,90.4ZM337.9,100.6L342.4,89.8H345.8L350.3,100.6ZM329.0,109.0L333.5,98.2H336.9L341.4,109.0ZM329.0,117.4L333.5,106.6H336.9L341.4,117.4ZM382.9,107.0L387.4,96.2H390.8L395.3,107.0ZM382.9,113.6L387.4,102.8H390.8L395.3,113.6ZM395.3,116.0L399.8,105.2H403.2L407.7,116.0ZM420.9,105.3L425.4,94.5H428.8L433.3,105.3ZM420.9,131.7L425.4,120.9H428.8L433.3,131.7ZM431.6,139.2L436.1,128.4H439.5L444.0,139.2ZM420.9,149.1L425.4,138.3H428.8L433.3,149.1ZM424.2,157.3L428.7,146.5H432.1L436.6,157.3ZM409.8,154.8L414.3,144.0H417.7L422.2,154.8ZM395.3,159.0L399.8,148.2H403.2L407.7,159.0ZM438.7,174.9L443.2,164.1H446.6L451.1,174.9ZM496.0,142.5L500.5,131.7H503.9L508.4,142.5ZM517.5,160.6L522.0,149.8H525.4L529.9,160.6ZM497.6,167.2L502.1,156.4H505.5L510.0,167.2ZM496.0,174.7L500.5,163.9H503.9L508.4,174.7ZM479.5,176.3L484.0,165.5H487.4L491.9,176.3ZM526.5,183.7L531.0,172.9H534.4L538.9,183.7ZM576.6,189.1L581.1,178.3H584.5L589.0,189.1ZM587.8,200.2L592.3,189.4H595.7L600.2,200.2ZM598.4,201.1L602.9,190.3H606.3L610.8,201.1ZM542.3,202.1L546.8,191.3H550.2L554.7,202.1ZM499.5,208.6L504.0,197.8H507.4L511.9,208.6ZM526.8,206.7L531.3,195.9H534.7L539.2,206.7ZM512.5,215.6L517.0,204.8H520.4L524.9,215.6ZM499.5,223.1L504.0,212.3H507.4L511.9,223.1ZM521.5,237.4L526.0,226.6H529.4L533.9,237.4ZM576.6,208.6L581.1,197.8H584.5L589.0,208.6ZM547.8,216.9L552.3,206.1H555.7L560.2,216.9ZM547.8,221.6L552.3,210.8H555.7L560.2,221.6ZM547.8,227.1L552.3,216.3H555.7L560.2,227.1ZM571.6,220.6L576.1,209.8H579.5L584.0,220.6ZM571.6,229.9L576.1,219.1H579.5L584.0,229.9ZM587.4,230.9L591.9,220.1H595.3L599.8,230.9ZM598.4,224.4L602.9,213.6H606.3L610.8,224.4ZM607.3,225.3L611.8,214.5H615.2L619.7,225.3ZM562.7,239.2L567.2,228.4H570.6L575.1,239.2ZM562.7,248.5L567.2,237.7H570.6L575.1,248.5ZM521.5,269.9L526.0,259.1H529.4L533.9,269.9ZM664.9,203.9L669.4,193.1H672.8L677.3,203.9ZM716.9,227.1L721.4,216.3H724.8L729.3,227.1ZM646.9,236.4L651.4,225.6H654.8L659.3,236.4ZM645.0,255.9L649.5,245.1H652.9L657.4,255.9ZM645.0,265.2L649.5,254.4H652.9L657.4,265.2ZM646.9,274.5L651.4,263.7H654.8L659.3,274.5ZM709.5,254.1L714.0,243.3H717.4L721.9,254.1ZM709.5,269.9L714.0,259.1H717.4L721.9,269.9ZM716.0,273.6L720.5,262.8H723.9L728.4,273.6ZM716.9,279.2L721.4,268.4H724.8L729.3,279.2ZM774.5,278.2L779.0,267.4H782.4L786.9,278.2ZM846.0,252.2L850.5,241.4H853.9L858.4,252.2ZM801.4,266.5L805.9,255.7H809.3L813.8,266.5ZM860.8,277.3L865.3,266.5H868.7L873.2,277.3ZM882.2,271.7L886.7,260.9H890.1L894.6,271.7ZM793.9,282.8L798.4,272.0H801.8L806.3,282.8ZM801.4,285.6L805.9,274.8H809.3L813.8,285.6ZM793.9,294.0L798.4,283.2H801.8L806.3,294.0ZM793.9,304.2L798.4,293.4H801.8L806.3,304.2ZM822.8,283.8L827.3,273.0H830.7L835.2,283.8ZM844.1,294.0L848.6,283.2H852.0L856.5,294.0ZM844.1,303.3L848.6,292.5H852.0L856.5,303.3ZM882.2,295.8L886.7,285.0H890.1L894.6,295.8ZM901.7,285.6L906.2,274.8H909.6L914.1,285.6ZM909.1,286.5L913.6,275.7H917.0L921.5,286.5ZM909.1,294.9L913.6,284.1H917.0L921.5,294.9ZM923.1,294.9L927.6,284.1H931.0L935.5,294.9ZM882.2,312.6L886.7,301.8H890.1L894.6,312.6ZM893.0,315.3L897.5,304.5H900.9L905.4,315.3ZM942.6,306.1L947.1,295.3H950.5L955.0,306.1ZM754.6,304.2L759.1,293.4H762.5L767.0,304.2ZM773.6,279.1L778.1,268.3H781.5L786.0,279.1Z"/>
<line x1="105.5" y1="10.7" x2="858.6" y2="10.7" stroke="#000" stroke-width="2"/>
<line x1="114.2" y1="9.7" x2="114.2" y2="665.2" stroke="#000" stroke-width="2"/>
<line x1="105.5" y1="656.8" x2="857.7" y2="656.8" stroke="#000" stroke-width="2"/>
<path d="M105.5,656.8H114.2M107.4,642.4H114.2M107.4,628.1H114.2M107.4,613.8H114.2M107.4,599.4H114.2M105.5,585.0H121.5M107.4,570.7H114.2M107.4,556.3H114.2M107.4,542.0H114.2M107.4,527.6H114.2M105.5,513.3H121.5M107.4,498.9H114.2M107.4,484.6H114.2M107.4,470.2H114.2M107.4,455.9H114.2M105.5,441.5H121.5M107.4,427.2H114.2M107.4,412.8H114.2M107.4,398.5H114.2M107.4,384.1H114.2M105.5,369.8H121.5M107.4,355.4H114.2M107.4,341.1H114.2M107.4,326.7H114.2M107.4,312.4H114.2M105.5,298.0H121.5M107.4,283.7H114.2M107.4,269.3H114.2M107.4,255.0H114.2M107.4,240.6H114.2M105.5,226.3H121.5M107.4,211.9H114.2M107.4,197.6H114.2M107.4,183.2H114.2M107.4,168.9H114.2M105.5,154.5H121.5M107.4,140.2H114.2M107.4,125.8H114.2M107.4,111.5H114.2M107.4,97.1H114.2M105.5,82.8H121.5M107.4,68.4H114.2M107.4,54.1H114.2M107.4,39.8H114.2M107.4,25.4H114.2M105.5,11.0H114.2M114.2,656.8V665.2M160.7,656.8V663M207.2,648V665.2M253.7,656.8V663M300.2,648V665.2M346.6,656.8V663M393.1,648V665.2M439.6,656.8V663M486.1,648V665.2M532.6,656.8V663M579.1,648V665.2M625.6,656.8V663M672.1,648V665.2M718.6,656.8V663M765.1,648V665.2M811.6,656.8V663M858.0,648V665.2M904.5,656.8V663M951.0,656.8V665.2" stroke="#000" stroke-width="1.8" fill="none"/>
<text x="89.5" y="668.4" font-size="30" text-anchor="end">1</text>
<text x="89.5" y="596.6" font-size="30" text-anchor="end">1.5</text>
<text x="89.5" y="524.9" font-size="30" text-anchor="end">2</text>
<text x="89.5" y="453.1" font-size="30" text-anchor="end">2.5</text>
<text x="89.5" y="381.4" font-size="30" text-anchor="end">3</text>
<text x="89.5" y="309.6" font-size="30" text-anchor="end">3.5</text>
<text x="89.5" y="237.9" font-size="30" text-anchor="end">4</text>
<text x="89.5" y="166.1" font-size="30" text-anchor="end">4.5</text>
<text x="89.5" y="94.4" font-size="30" text-anchor="end">5</text>
<text x="89.5" y="22.6" font-size="30" text-anchor="end">5.5</text>
<text x="114.2" y="703.3" font-size="30" text-anchor="middle">0</text>
<text x="207.2" y="703.3" font-size="30" text-anchor="middle">10</text>
<text x="300.2" y="703.3" font-size="30" text-anchor="middle">20</text>
<text x="393.1" y="703.3" font-size="30" text-anchor="middle">30</text>
<text x="486.1" y="703.3" font-size="30" text-anchor="middle">40</text>
<text x="579.1" y="703.3" font-size="30" text-anchor="middle">50</text>
<text x="672.1" y="703.3" font-size="30" text-anchor="middle">60</text>
<text x="765.1" y="703.3" font-size="30" text-anchor="middle">70</text>
<text x="858.0" y="703.3" font-size="30" text-anchor="middle">80</text>
<text x="951.0" y="703.3" font-size="30" text-anchor="middle">90</text>
<text x="531.9" y="746.5" font-size="33" font-weight="bold" text-anchor="middle">c axis orientation [°]</text>
<text transform="translate(27.1,367) rotate(-90)" x="0" y="0" font-size="33.2" font-weight="bold" text-anchor="middle">Nanohardness [GPa]</text>
<text x="147.5" y="642.5"><tspan font-size="36" dy="3.6" letter-spacing="2.6">//</tspan><tspan font-size="30" dy="-3.6" dx="-1">&lt;c&gt;</tspan></text>
<text x="869.3" y="643.3"><tspan font-size="36" dy="3.6" letter-spacing="2.6">//</tspan><tspan font-size="30" dy="-3.6" dx="-1">&lt;a&gt;</tspan></text>
<text x="766.5" y="49.8" font-size="29">CP-Ti</text>
<text x="766.5" y="84.2" font-size="29">Ti-3Al</text>
<text x="766.5" y="118.7" font-size="29">Ti-7Al</text>
<text x="766.5" y="153.2" font-size="29">Ti-10Al</text>
<text x="766.5" y="187.6" font-size="29">Ti-13Al</text>
<line x1="873.3" y1="34.9" x2="891" y2="34.9" stroke="#6a1a9a" stroke-width="1.8" stroke-dasharray="4.5 1.8"/>
<path fill="#7a22be" d="M912.4,28.2L917.7,33.5L912.4,38.8L907.1,33.5Z"/>
<line x1="873" y1="71.5" x2="888" y2="71.5" stroke="#2f6bf0" stroke-width="1.8"/>
<circle cx="912.3" cy="68.6" r="5.5" fill="#3f7ff2"/>
<line x1="873" y1="102.4" x2="891" y2="102.4" stroke="#128a12" stroke-width="1.8"/>
<path fill="#0a8c0a" d="M907.6,100.0h9.7v9.7h-9.7Z"/>
<line x1="873" y1="138.6" x2="891" y2="138.6" stroke="#1020f0" stroke-width="1.8" stroke-dasharray="7.3 4.8"/>
<path fill="#1a2cf5" d="M912.3,135.5L917.3,140.5L912.3,145.5L907.3,140.5Z"/>
<line x1="873" y1="176" x2="888" y2="176" stroke="#000" stroke-width="1.8"/>
<path fill="#000" d="M906.0,182.0L911.8,171.0H912.8L918.5,182.0Z"/>
<polygon fill="#2a2a2a" points="150.6,695.6 192.5,704.0 206.2,745.2 178.0,777.7 134.7,768.3 121.4,727.1"/>
<polygon fill="#2a2a2a" points="189.6,698.8 192.5,704.0 206.2,745.2 178.0,777.7 134.7,768.3 131.8,763.1 175.1,772.5 203.3,740.0"/>
<polygon fill="#808080" points="147.7,690.4 189.6,698.8 203.3,740.0 175.1,772.5 131.8,763.1 118.5,721.9"/>
<polygon fill="#7c7c7c" points="872.9,708.5 934,702 942.2,777.1 881.1,783.9"/>
<polygon fill="#444" points="879.7,768 940.6,761.5 942.2,777.1 881.1,783.9"/>
<line x1="874.9" y1="730.3" x2="935.4" y2="723.7" stroke="#3a3a3a" stroke-width="1.2"/>
<line x1="934" y1="702" x2="942.2" y2="777.1" stroke="#333" stroke-width="1.4"/>
</svg></body></html>
